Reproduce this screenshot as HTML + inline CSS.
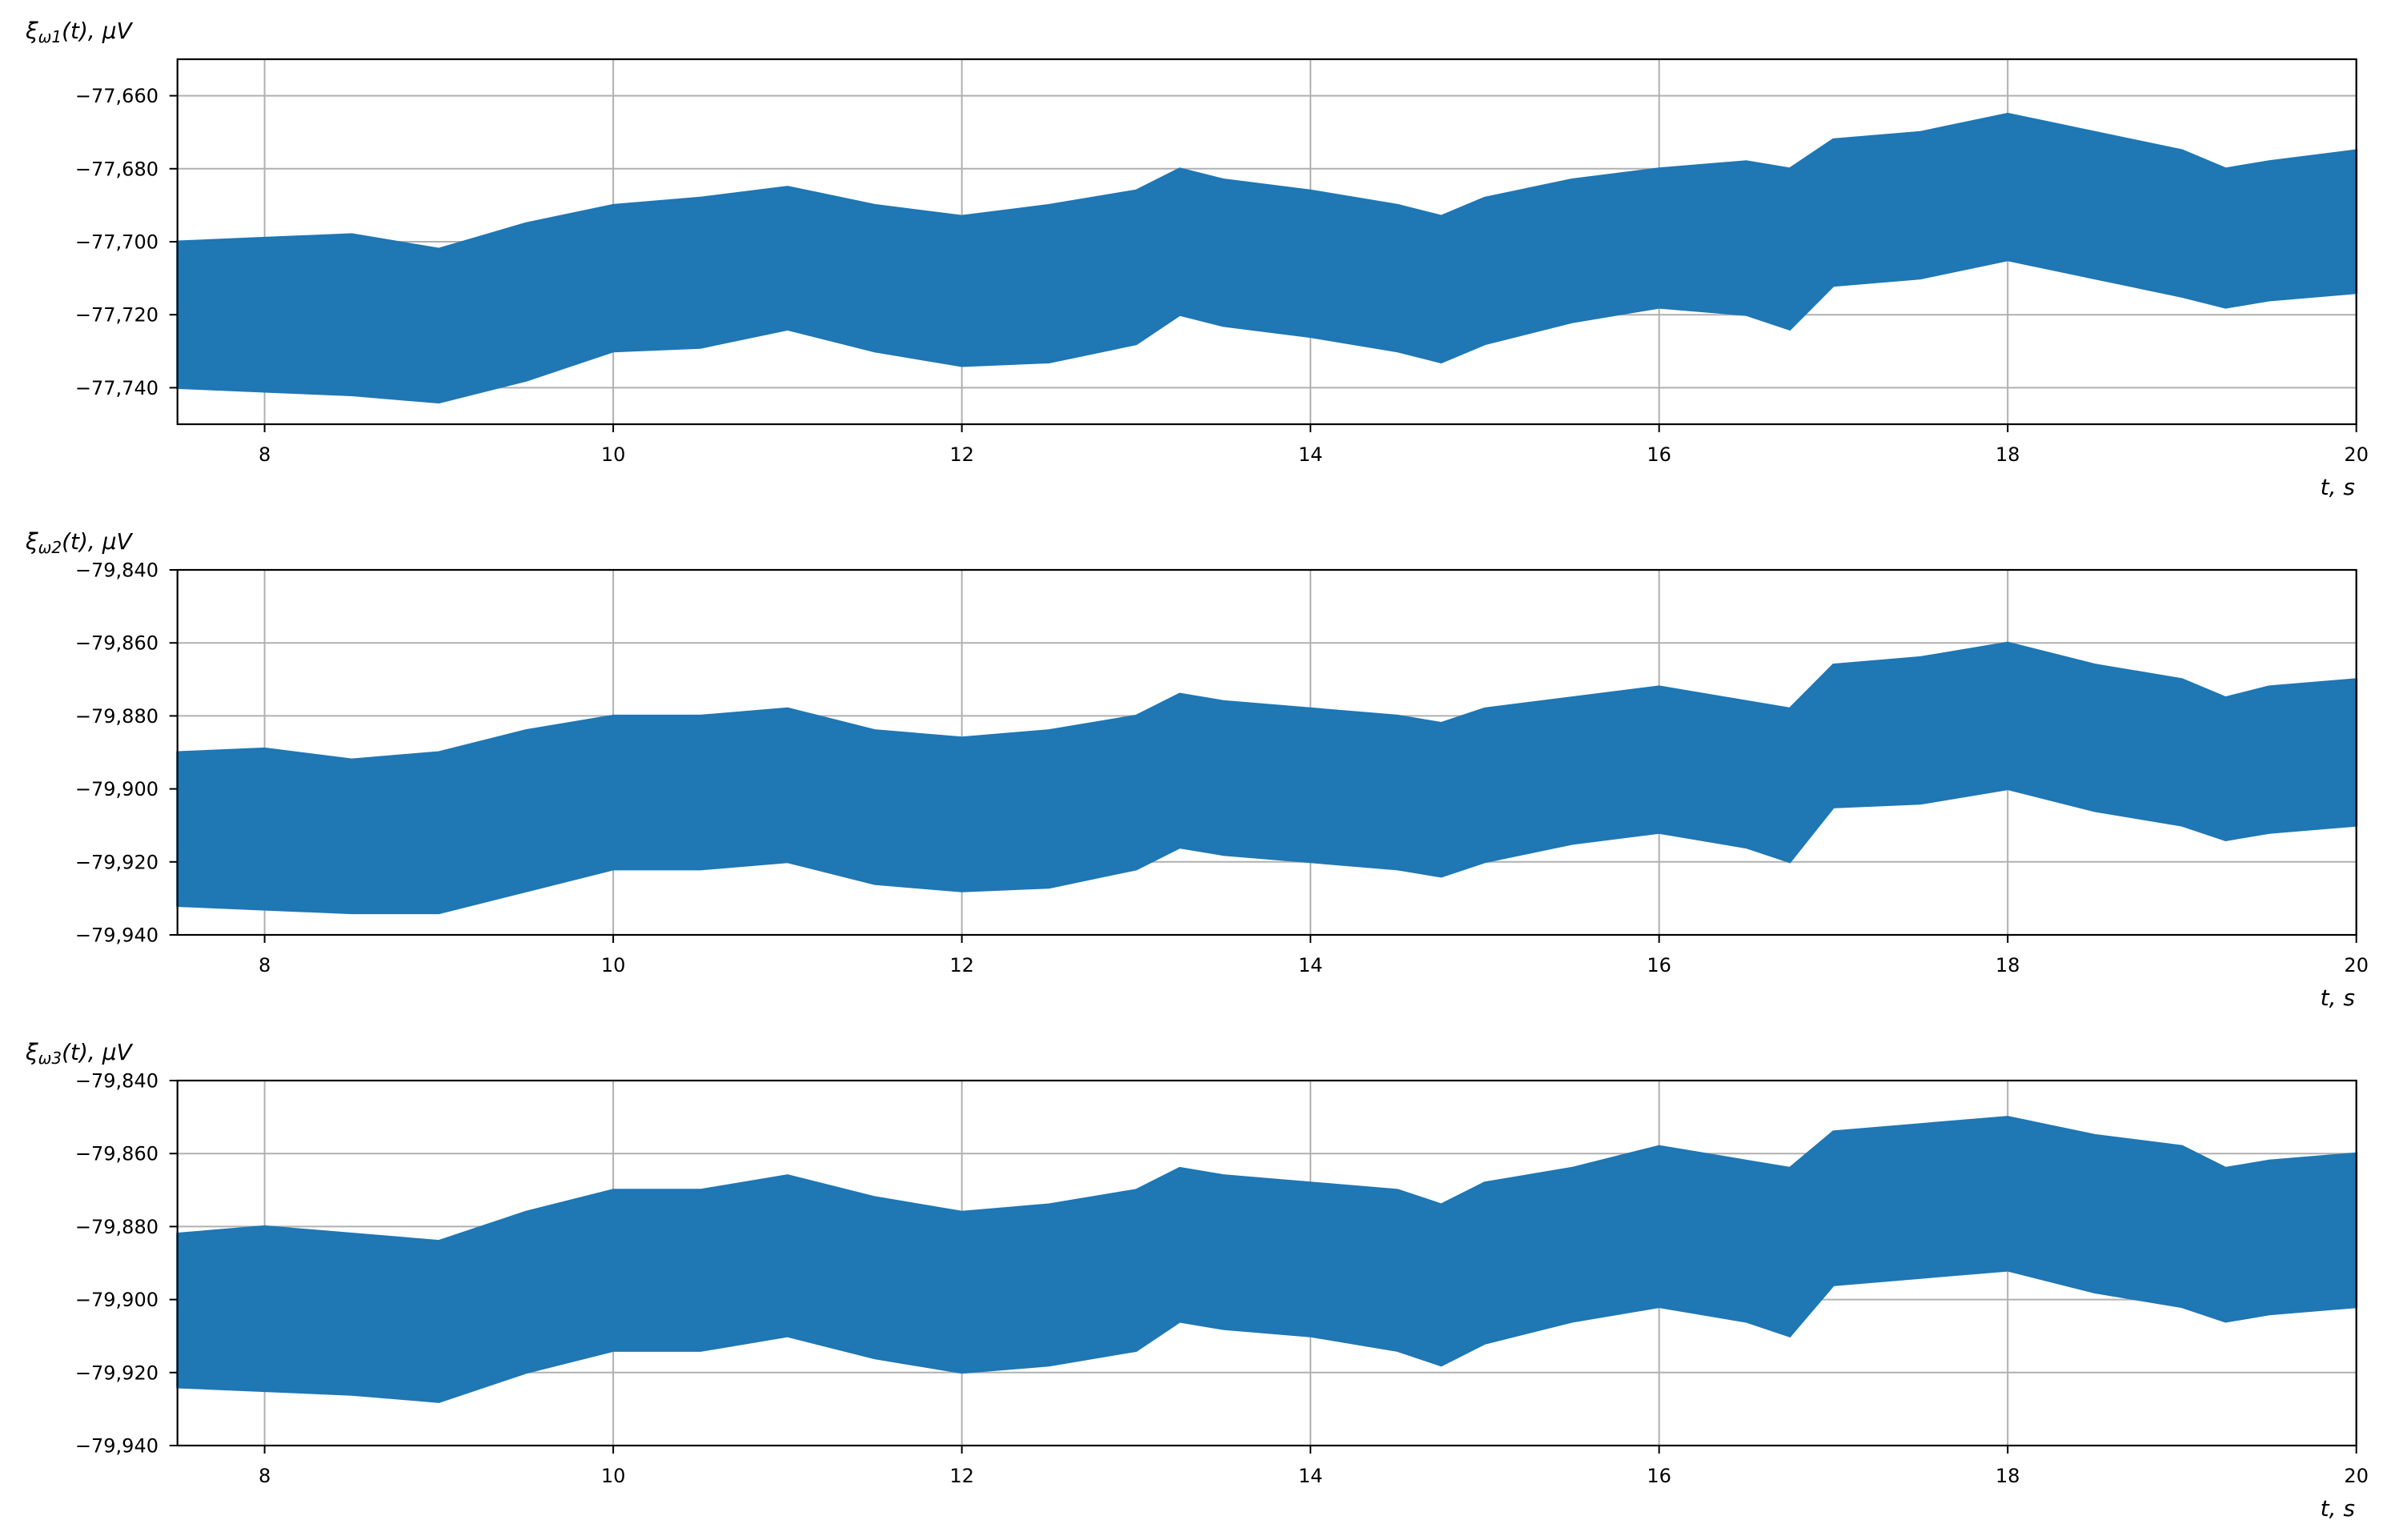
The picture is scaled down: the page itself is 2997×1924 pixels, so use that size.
<!DOCTYPE html>
<html><head><meta charset="utf-8"><style>
html,body{margin:0;padding:0;background:#fff;}
svg{display:block;font-family:"DejaVu Sans","Liberation Sans",sans-serif;}
</style></head><body>
<svg id="fig" width="2997" height="1924" viewBox="0 0 2997 1924" xmlns="http://www.w3.org/2000/svg"></svg>
<script>
const times = [7.5,8,8.5,9,9.5,10,10.5,11,11.5,12,12.5,13,13.25,13.5,14,14.5,14.75,15,15.5,16,16.5,16.75,17,17.5,18,18.5,19,19.25,19.5,20];
const upper1 = [-77700,-77699,-77698,-77702,-77695,-77690,-77688,-77685,-77690,-77693,-77690,-77686,-77680,-77683,-77686,-77690,-77693,-77688,-77683,-77680,-77678,-77680,-77672,-77670,-77665,-77670,-77675,-77680,-77678,-77675];
const lower1 = [-77740,-77741,-77742,-77744,-77738,-77730,-77729,-77724,-77730,-77734,-77733,-77728,-77720,-77723,-77726,-77730,-77733,-77728,-77722,-77718,-77720,-77724,-77712,-77710,-77705,-77710,-77715,-77718,-77716,-77714];
const upper2 = [-79890,-79889,-79892,-79890,-79884,-79880,-79880,-79878,-79884,-79886,-79884,-79880,-79874,-79876,-79878,-79880,-79882,-79878,-79875,-79872,-79876,-79878,-79866,-79864,-79860,-79866,-79870,-79875,-79872,-79870];
const lower2 = [-79932,-79933,-79934,-79934,-79928,-79922,-79922,-79920,-79926,-79928,-79927,-79922,-79916,-79918,-79920,-79922,-79924,-79920,-79915,-79912,-79916,-79920,-79905,-79904,-79900,-79906,-79910,-79914,-79912,-79910];
const upper3 = [-79882,-79880,-79882,-79884,-79876,-79870,-79870,-79866,-79872,-79876,-79874,-79870,-79864,-79866,-79868,-79870,-79874,-79868,-79864,-79858,-79862,-79864,-79854,-79852,-79850,-79855,-79858,-79864,-79862,-79860];
const lower3 = [-79924,-79925,-79926,-79928,-79920,-79914,-79914,-79910,-79916,-79920,-79918,-79914,-79906,-79908,-79910,-79914,-79918,-79912,-79906,-79902,-79906,-79910,-79896,-79894,-79892,-79898,-79902,-79906,-79904,-79902];
const xTicks = [8,10,12,14,16,18,20];
const yTicks1 = [-77660,-77680,-77700,-77720,-77740];
const yTicks23 = [-79840,-79860,-79880,-79900,-79920,-79940];
const yLabels1 = ["−77,660","−77,680","−77,700","−77,720","−77,740"];
const yLabels23 = ["−79,840","−79,860","−79,880","−79,900","−79,920","−79,940"];

const NS="http://www.w3.org/2000/svg";
const svg=document.getElementById('fig');
function mk(tag,attrs,parent){const e=document.createElementNS(NS,tag);for(const k in attrs)e.setAttribute(k,attrs[k]);(parent||svg).appendChild(e);return e;}
const L=221.7,R=2943.7,H=456;
const panels=[
 {top:74,ymin:-77750,ymax:-77650,up:upper1,lo:lower1,ticks:yTicks1,labels:yLabels1,sub:"ω1"},
 {top:712,ymin:-79940,ymax:-79840,up:upper2,lo:lower2,ticks:yTicks23,labels:yLabels23,sub:"ω2"},
 {top:1350,ymin:-79940,ymax:-79840,up:upper3,lo:lower3,ticks:yTicks23,labels:yLabels23,sub:"ω3"}
];
function xs(t){return L+(t-7.5)/(20-7.5)*(R-L);}
panels.forEach((p,i)=>{
  const g=mk('g',{});
  
  
  const bot=p.top+H;
  const ys=v=>bot-(v-p.ymin)/(p.ymax-p.ymin)*H;
  xTicks.forEach(t=>{
    const l=mk('line',{x1:xs(t),x2:xs(t),y1:p.top,y2:bot,stroke:'#b0b0b0','stroke-width':2},g);
    
    
  });
  p.ticks.forEach(v=>{
    const l=mk('line',{x1:L,x2:R,y1:ys(v),y2:ys(v),stroke:'#b0b0b0','stroke-width':2},g);
    
    
  });
  let pts=[];
  times.forEach((t,k)=>pts.push(xs(t).toFixed(1)+','+ys(p.up[k]).toFixed(1)));
  for(let k=times.length-1;k>=0;k--)pts.push(xs(times[k]).toFixed(1)+','+ys(p.lo[k]).toFixed(1));
  const poly=mk('polygon',{points:pts.join(' '),fill:'#1f77b4',stroke:'#1f77b4','stroke-width':3,'stroke-linejoin':'miter'},g);
  
  
  const fr=mk('rect',{x:L,y:p.top,width:R-L,height:H,fill:'none',stroke:'#000','stroke-width':2.2},g);
  
  
  xTicks.forEach(t=>{
    mk('line',{x1:xs(t),x2:xs(t),y1:bot,y2:bot+10,stroke:'#000','stroke-width':2},g);
    const tx=mk('text',{x:xs(t),y:bot+46,'font-size':24,'text-anchor':'middle',fill:'#000'},g);
    tx.textContent=t;
    
    
  });
  p.ticks.forEach((v,k)=>{
    mk('line',{x1:L-10,x2:L,y1:ys(v),y2:ys(v),stroke:'#000','stroke-width':2},g);
    const tx=mk('text',{x:198,y:ys(v)+8.5,'font-size':24,'text-anchor':'end',fill:'#000'},g);
    tx.textContent=p.labels[k];
    
    
  });
  const yl=mk('text',{x:32,y:p.top-26,'font-size':28,'font-style':'italic',fill:'#000'},g);
  
  
  const s1=mk('tspan',{},yl);s1.textContent='ξ';
  const s2=mk('tspan',{'font-size':20,dy:5},yl);s2.textContent=p.sub;
  const s3=mk('tspan',{dy:-5},yl);s3.textContent='(t), μV';
  const xl=mk('text',{x:2942,y:bot+88,'font-size':28,'font-style':'italic','text-anchor':'end',fill:'#000'},g);
  xl.textContent='t, s';
  
  
});
</script>
</body></html>
